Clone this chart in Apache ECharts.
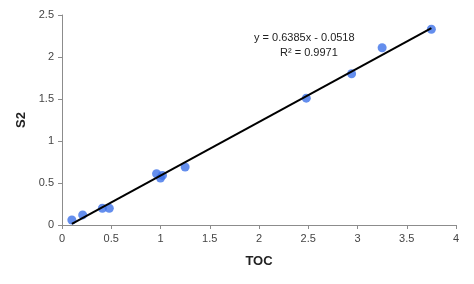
<!DOCTYPE html>
<html><head><meta charset="utf-8">
<script src="https://cdn.jsdelivr.net/npm/echarts@6/dist/echarts.min.js"></script>
<style>html,body{margin:0;padding:0;background:#fff}#c{width:474px;height:284px}</style>
</head><body><div id="c"></div>
<script>
const tocValues = [0.10, 0.21, 0.41, 0.48, 0.96, 1.00, 1.02, 1.25, 2.48, 2.94, 3.25, 3.75];
const s2Values  = [0.06, 0.12, 0.20, 0.20, 0.61, 0.56, 0.59, 0.69, 1.51, 1.80, 2.11, 2.33];
const trendSlope = 0.6385;
const trendIntercept = -0.0518;
const trendRange = [0.10, 3.75];
const xTicks = [0, 0.5, 1, 1.5, 2, 2.5, 3, 3.5, 4];
const yTicks = [0, 0.5, 1, 1.5, 2, 2.5];
const equationText = 'y = 0.6385x - 0.0518';
const r2Text = 'R² = 0.9971';

const chart = echarts.init(document.getElementById('c'), null, {renderer: 'canvas'});
const font = 'Liberation Sans';
const scatterData = tocValues.map((x, i) => [x, s2Values[i]]);
const trendData = trendRange.map(x => [x, trendSlope * x + trendIntercept]);
chart.setOption({
  animation: false,
  backgroundColor: '#fff',
  grid: {left: 62, right: 18, top: 15, bottom: 59, containLabel: false},
  xAxis: {
    type: 'value', min: xTicks[0], max: xTicks[xTicks.length - 1], interval: 0.5,
    name: 'TOC', nameLocation: 'middle', nameGap: 30,
    nameTextStyle: {fontFamily: font, fontWeight: 'bold', fontSize: 13, color: '#222'},
    axisLine: {lineStyle: {color: '#8c8c8c', width: 1}},
    axisTick: {show: true, length: 4, lineStyle: {color: '#8c8c8c'}},
    axisLabel: {fontFamily: font, fontSize: 11, color: '#444', margin: 8},
    splitLine: {show: false}
  },
  yAxis: {
    type: 'value', min: yTicks[0], max: yTicks[yTicks.length - 1], interval: 0.5,
    name: 'S2', nameLocation: 'middle', nameGap: 33, nameRotate: 90,
    nameTextStyle: {fontFamily: font, fontWeight: 'bold', fontSize: 13, color: '#222'},
    axisLine: {show: true, lineStyle: {color: '#8c8c8c', width: 1}},
    axisTick: {show: true, length: 4, lineStyle: {color: '#8c8c8c'}},
    axisLabel: {fontFamily: font, fontSize: 11, color: '#444', margin: 8},
    splitLine: {show: false}
  },
  series: [
    {
      type: 'scatter', data: scatterData, symbol: 'circle', symbolSize: 9,
      itemStyle: {color: '#3d72e8'}, z: 2
    },
    {
      type: 'line', data: trendData, symbol: 'none', z: 3,
      lineStyle: {color: '#000', width: 2}
    }
  ],
  graphic: [
    {type: 'text', left: 254, top: 32, style: {text: equationText, fontFamily: font, fontSize: 11, fill: '#222'}},
    {type: 'text', left: 280, top: 47, style: {text: r2Text, fontFamily: font, fontSize: 11, fill: '#222'}}
  ]
});
</script></body></html>
